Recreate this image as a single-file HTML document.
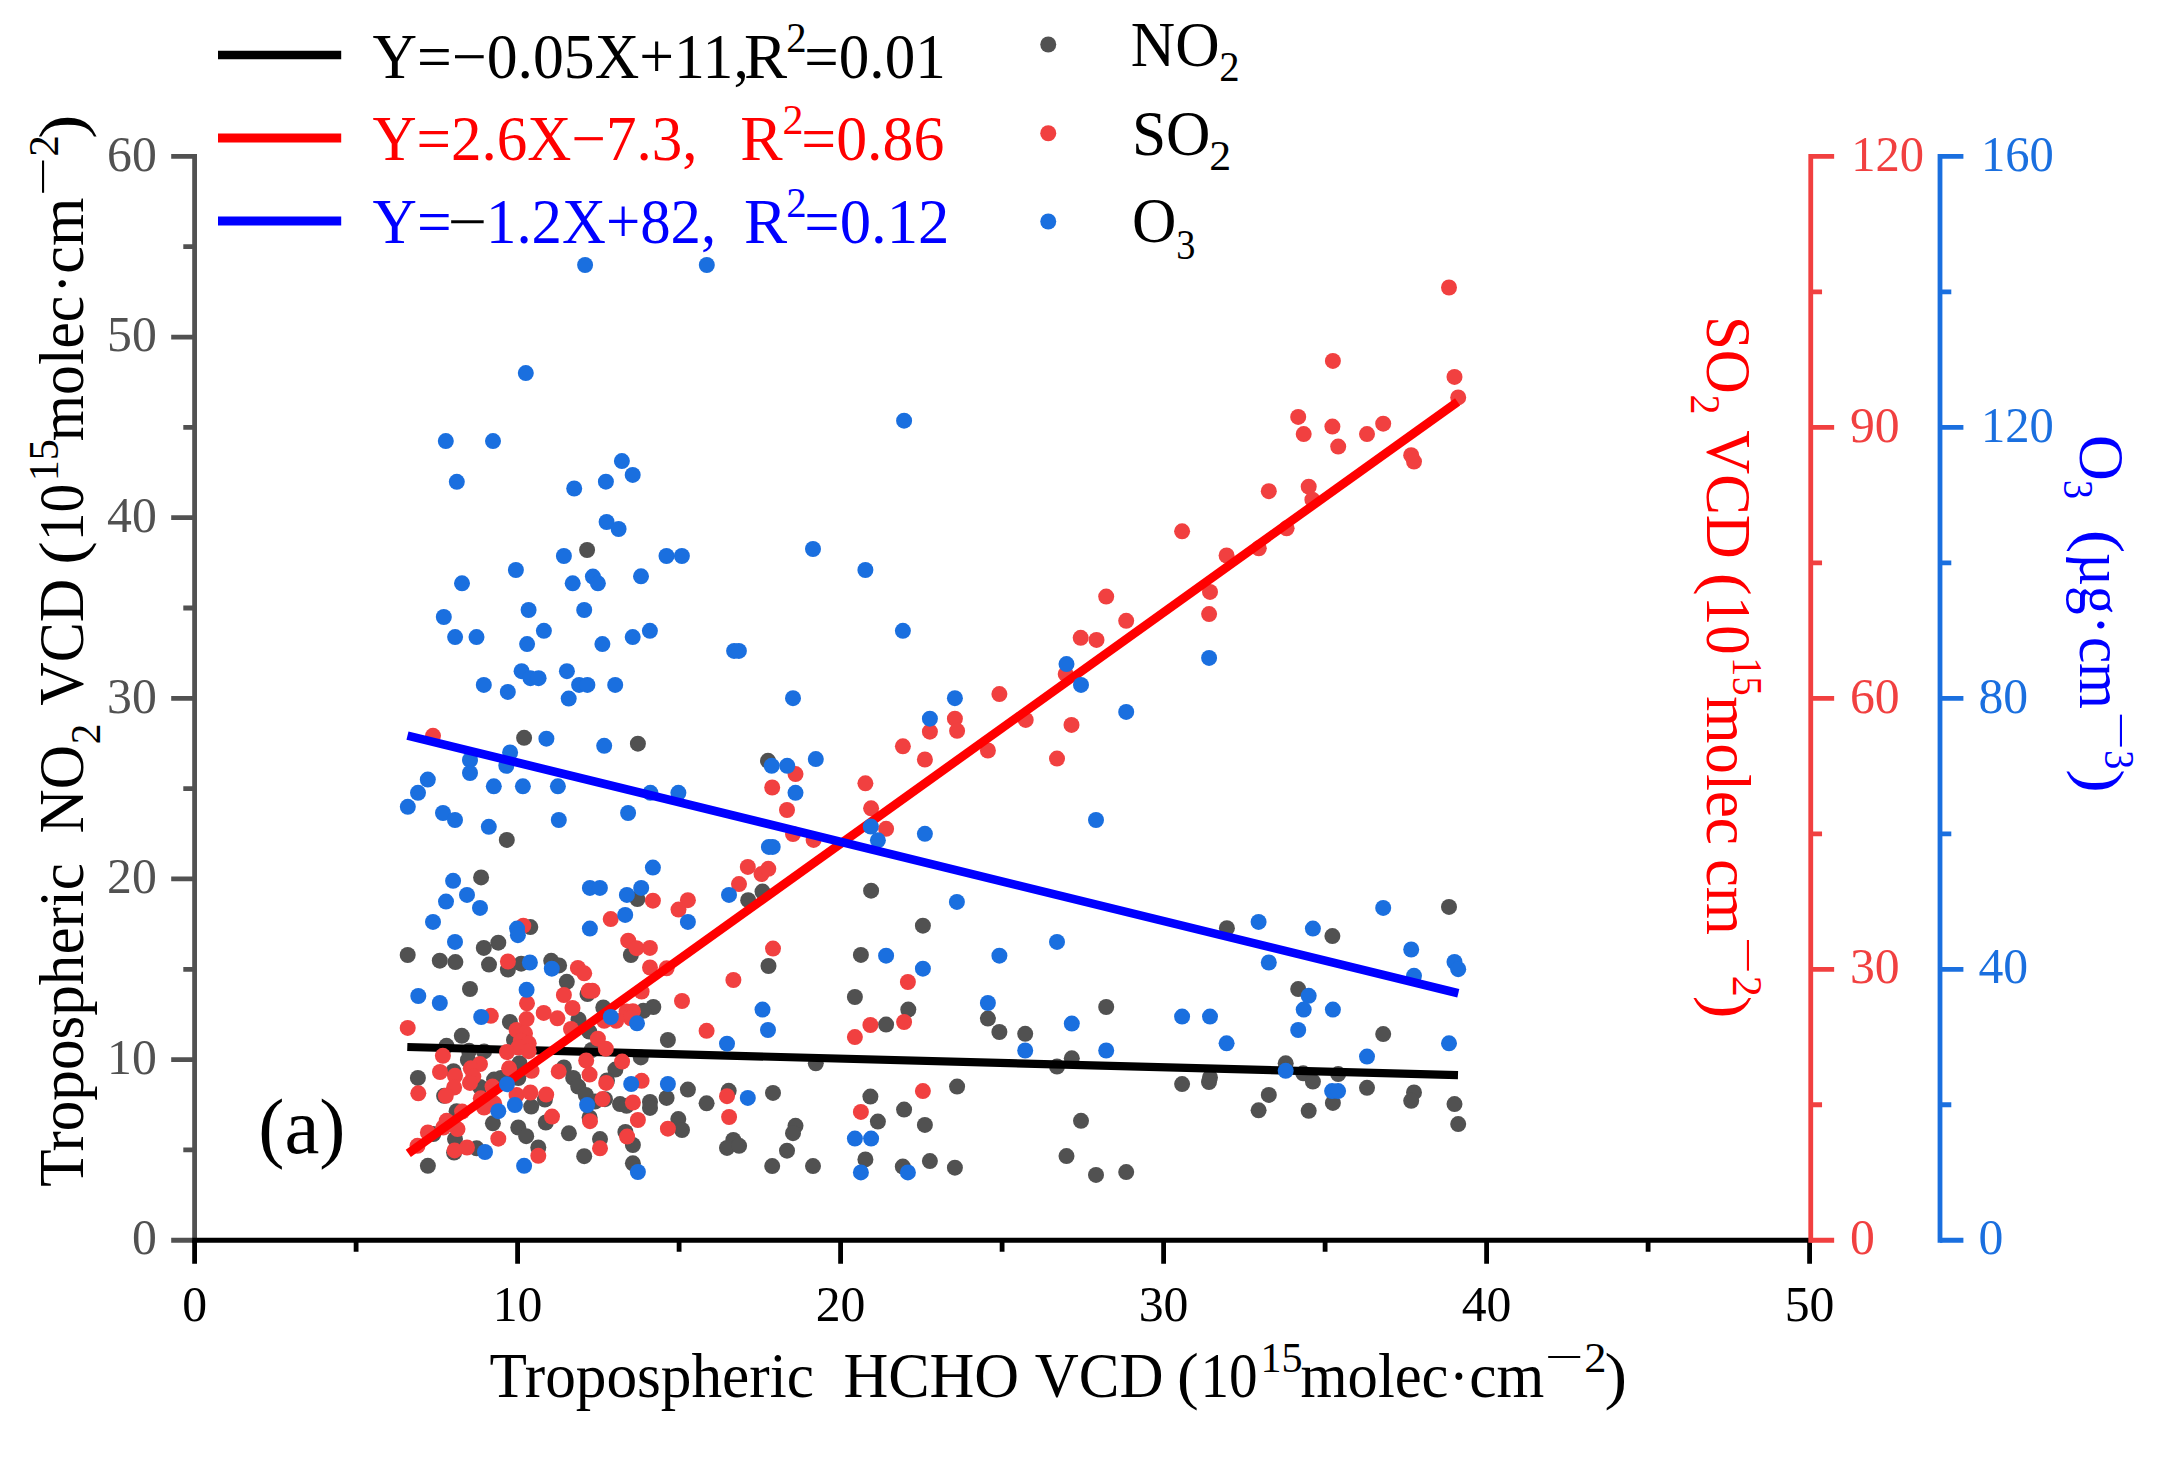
<!DOCTYPE html>
<html><head><meta charset="utf-8"><title>Figure (a)</title>
<style>html,body{margin:0;padding:0;background:#fff}svg{display:block}text{font-family:"Liberation Serif",serif}</style>
</head><body>
<svg width="2161" height="1465" viewBox="0 0 2161 1465">
<rect width="2161" height="1465" fill="#fff"/>
<g fill="#515151">
<circle cx="587.1" cy="550.0" r="8.0"/>
<circle cx="524.1" cy="737.8" r="8.0"/>
<circle cx="637.9" cy="743.7" r="8.0"/>
<circle cx="506.8" cy="839.9" r="8.0"/>
<circle cx="481.1" cy="877.4" r="8.0"/>
<circle cx="637.4" cy="899.1" r="8.0"/>
<circle cx="748.2" cy="900.2" r="8.0"/>
<circle cx="530.3" cy="927.1" r="8.0"/>
<circle cx="498.3" cy="942.7" r="8.0"/>
<circle cx="483.8" cy="947.9" r="8.0"/>
<circle cx="630.9" cy="955.0" r="8.0"/>
<circle cx="407.7" cy="955.0" r="8.0"/>
<circle cx="439.8" cy="960.7" r="8.0"/>
<circle cx="455.4" cy="962.1" r="8.0"/>
<circle cx="489.0" cy="964.6" r="8.0"/>
<circle cx="507.9" cy="969.6" r="8.0"/>
<circle cx="521.2" cy="963.7" r="8.0"/>
<circle cx="551.2" cy="960.8" r="8.0"/>
<circle cx="559.1" cy="965.4" r="8.0"/>
<circle cx="566.8" cy="981.8" r="8.0"/>
<circle cx="470.0" cy="989.0" r="8.0"/>
<circle cx="509.9" cy="1022.0" r="8.0"/>
<circle cx="461.8" cy="1035.8" r="8.0"/>
<circle cx="446.5" cy="1045.8" r="8.0"/>
<circle cx="524.0" cy="1033.3" r="8.0"/>
<circle cx="514.0" cy="1040.0" r="8.0"/>
<circle cx="469.1" cy="1050.8" r="8.0"/>
<circle cx="484.1" cy="1051.4" r="8.0"/>
<circle cx="467.9" cy="1060.0" r="8.0"/>
<circle cx="453.5" cy="1071.2" r="8.0"/>
<circle cx="519.5" cy="1063.2" r="8.0"/>
<circle cx="563.9" cy="1067.4" r="8.0"/>
<circle cx="587.5" cy="994.1" r="8.0"/>
<circle cx="603.3" cy="1007.5" r="8.0"/>
<circle cx="653.3" cy="1007.0" r="8.0"/>
<circle cx="643.3" cy="1010.8" r="8.0"/>
<circle cx="589.2" cy="1031.6" r="8.0"/>
<circle cx="667.9" cy="1040.0" r="8.0"/>
<circle cx="591.7" cy="1050.0" r="8.0"/>
<circle cx="640.8" cy="1057.4" r="8.0"/>
<circle cx="615.4" cy="1069.6" r="8.0"/>
<circle cx="578.5" cy="1019.5" r="8.0"/>
<circle cx="417.9" cy="1077.9" r="8.0"/>
<circle cx="480.0" cy="1087.0" r="8.0"/>
<circle cx="494.1" cy="1079.6" r="8.0"/>
<circle cx="501.0" cy="1078.0" r="8.0"/>
<circle cx="518.3" cy="1078.0" r="8.0"/>
<circle cx="573.2" cy="1077.9" r="8.0"/>
<circle cx="578.2" cy="1086.6" r="8.0"/>
<circle cx="531.2" cy="1106.6" r="8.0"/>
<circle cx="544.9" cy="1099.6" r="8.0"/>
<circle cx="456.6" cy="1111.2" r="8.0"/>
<circle cx="444.1" cy="1095.8" r="8.0"/>
<circle cx="492.9" cy="1123.3" r="8.0"/>
<circle cx="518.3" cy="1127.5" r="8.0"/>
<circle cx="526.2" cy="1136.2" r="8.0"/>
<circle cx="545.8" cy="1122.5" r="8.0"/>
<circle cx="568.9" cy="1133.3" r="8.0"/>
<circle cx="433.3" cy="1134.1" r="8.0"/>
<circle cx="455.0" cy="1139.1" r="8.0"/>
<circle cx="476.6" cy="1148.3" r="8.0"/>
<circle cx="454.1" cy="1152.5" r="8.0"/>
<circle cx="538.3" cy="1147.5" r="8.0"/>
<circle cx="427.9" cy="1165.8" r="8.0"/>
<circle cx="607.0" cy="1080.4" r="8.0"/>
<circle cx="585.8" cy="1095.0" r="8.0"/>
<circle cx="595.0" cy="1101.6" r="8.0"/>
<circle cx="605.0" cy="1099.2" r="8.0"/>
<circle cx="620.0" cy="1104.1" r="8.0"/>
<circle cx="626.6" cy="1105.8" r="8.0"/>
<circle cx="650.0" cy="1102.0" r="8.0"/>
<circle cx="650.0" cy="1107.9" r="8.0"/>
<circle cx="666.6" cy="1097.9" r="8.0"/>
<circle cx="687.9" cy="1089.6" r="8.0"/>
<circle cx="706.6" cy="1103.3" r="8.0"/>
<circle cx="728.7" cy="1090.8" r="8.0"/>
<circle cx="589.6" cy="1117.5" r="8.0"/>
<circle cx="678.3" cy="1119.1" r="8.0"/>
<circle cx="682.0" cy="1130.0" r="8.0"/>
<circle cx="600.0" cy="1139.1" r="8.0"/>
<circle cx="625.4" cy="1132.0" r="8.0"/>
<circle cx="632.9" cy="1145.0" r="8.0"/>
<circle cx="584.2" cy="1156.2" r="8.0"/>
<circle cx="632.9" cy="1163.3" r="8.0"/>
<circle cx="733.3" cy="1140.0" r="8.0"/>
<circle cx="727.0" cy="1147.9" r="8.0"/>
<circle cx="739.1" cy="1145.8" r="8.0"/>
<circle cx="768.0" cy="760.8" r="8.0"/>
<circle cx="762.5" cy="891.6" r="8.0"/>
<circle cx="871.1" cy="890.7" r="8.0"/>
<circle cx="922.9" cy="925.7" r="8.0"/>
<circle cx="860.9" cy="954.9" r="8.0"/>
<circle cx="768.5" cy="966.0" r="8.0"/>
<circle cx="854.9" cy="997.0" r="8.0"/>
<circle cx="908.3" cy="1009.6" r="8.0"/>
<circle cx="886.1" cy="1024.6" r="8.0"/>
<circle cx="987.9" cy="1018.6" r="8.0"/>
<circle cx="999.4" cy="1032.0" r="8.0"/>
<circle cx="1025.2" cy="1033.8" r="8.0"/>
<circle cx="1106.2" cy="1007.0" r="8.0"/>
<circle cx="1071.8" cy="1058.3" r="8.0"/>
<circle cx="1057.0" cy="1066.6" r="8.0"/>
<circle cx="815.8" cy="1063.3" r="8.0"/>
<circle cx="957.1" cy="1086.6" r="8.0"/>
<circle cx="773.0" cy="1092.9" r="8.0"/>
<circle cx="870.4" cy="1096.6" r="8.0"/>
<circle cx="904.1" cy="1109.6" r="8.0"/>
<circle cx="877.9" cy="1121.6" r="8.0"/>
<circle cx="924.9" cy="1124.9" r="8.0"/>
<circle cx="795.5" cy="1125.8" r="8.0"/>
<circle cx="793.0" cy="1133.2" r="8.0"/>
<circle cx="1081.0" cy="1120.8" r="8.0"/>
<circle cx="787.0" cy="1150.7" r="8.0"/>
<circle cx="772.2" cy="1166.1" r="8.0"/>
<circle cx="813.0" cy="1166.1" r="8.0"/>
<circle cx="865.4" cy="1159.4" r="8.0"/>
<circle cx="902.8" cy="1166.6" r="8.0"/>
<circle cx="929.9" cy="1161.1" r="8.0"/>
<circle cx="954.9" cy="1167.7" r="8.0"/>
<circle cx="1066.5" cy="1156.1" r="8.0"/>
<circle cx="1096.0" cy="1174.9" r="8.0"/>
<circle cx="1449.0" cy="906.9" r="8.0"/>
<circle cx="1226.9" cy="928.2" r="8.0"/>
<circle cx="1332.4" cy="936.1" r="8.0"/>
<circle cx="1298.2" cy="989.1" r="8.0"/>
<circle cx="1383.2" cy="1034.1" r="8.0"/>
<circle cx="1285.7" cy="1063.3" r="8.0"/>
<circle cx="1303.2" cy="1073.3" r="8.0"/>
<circle cx="1312.9" cy="1081.6" r="8.0"/>
<circle cx="1338.2" cy="1074.1" r="8.0"/>
<circle cx="1210.0" cy="1077.5" r="8.0"/>
<circle cx="1209.0" cy="1082.0" r="8.0"/>
<circle cx="1182.1" cy="1084.1" r="8.0"/>
<circle cx="1367.0" cy="1087.8" r="8.0"/>
<circle cx="1268.8" cy="1094.9" r="8.0"/>
<circle cx="1414.0" cy="1092.4" r="8.0"/>
<circle cx="1411.2" cy="1100.8" r="8.0"/>
<circle cx="1332.9" cy="1102.9" r="8.0"/>
<circle cx="1258.6" cy="1110.3" r="8.0"/>
<circle cx="1308.7" cy="1110.8" r="8.0"/>
<circle cx="1454.5" cy="1104.1" r="8.0"/>
<circle cx="1458.2" cy="1124.1" r="8.0"/>
<circle cx="1126.2" cy="1172.1" r="8.0"/>
</g>
<line x1="407.3" y1="1047" x2="1458" y2="1075.1" stroke="#000" stroke-width="8.2"/>
<g fill="#F14040">
<circle cx="433.0" cy="735.8" r="8.0"/>
<circle cx="747.8" cy="866.9" r="8.0"/>
<circle cx="739.0" cy="884.1" r="8.0"/>
<circle cx="652.9" cy="900.7" r="8.0"/>
<circle cx="687.9" cy="900.2" r="8.0"/>
<circle cx="678.5" cy="909.6" r="8.0"/>
<circle cx="610.7" cy="919.1" r="8.0"/>
<circle cx="523.3" cy="925.7" r="8.0"/>
<circle cx="628.2" cy="940.7" r="8.0"/>
<circle cx="636.5" cy="948.2" r="8.0"/>
<circle cx="649.9" cy="947.9" r="8.0"/>
<circle cx="507.9" cy="961.5" r="8.0"/>
<circle cx="563.9" cy="995.0" r="8.0"/>
<circle cx="527.0" cy="1003.3" r="8.0"/>
<circle cx="490.8" cy="1015.8" r="8.0"/>
<circle cx="407.7" cy="1027.9" r="8.0"/>
<circle cx="543.7" cy="1012.9" r="8.0"/>
<circle cx="557.4" cy="1018.3" r="8.0"/>
<circle cx="572.5" cy="1008.0" r="8.0"/>
<circle cx="526.6" cy="1019.1" r="8.0"/>
<circle cx="516.6" cy="1030.0" r="8.0"/>
<circle cx="525.0" cy="1033.3" r="8.0"/>
<circle cx="520.8" cy="1040.8" r="8.0"/>
<circle cx="518.3" cy="1047.5" r="8.0"/>
<circle cx="528.7" cy="1043.3" r="8.0"/>
<circle cx="507.0" cy="1052.0" r="8.0"/>
<circle cx="528.7" cy="1051.2" r="8.0"/>
<circle cx="442.9" cy="1055.8" r="8.0"/>
<circle cx="440.0" cy="1072.0" r="8.0"/>
<circle cx="480.0" cy="1064.1" r="8.0"/>
<circle cx="470.8" cy="1068.3" r="8.0"/>
<circle cx="509.1" cy="1068.3" r="8.0"/>
<circle cx="558.7" cy="1071.4" r="8.0"/>
<circle cx="571.0" cy="1029.0" r="8.0"/>
<circle cx="577.9" cy="967.9" r="8.0"/>
<circle cx="584.2" cy="973.3" r="8.0"/>
<circle cx="650.0" cy="967.5" r="8.0"/>
<circle cx="666.6" cy="968.3" r="8.0"/>
<circle cx="733.4" cy="980.0" r="8.0"/>
<circle cx="588.7" cy="990.8" r="8.0"/>
<circle cx="592.5" cy="990.8" r="8.0"/>
<circle cx="641.6" cy="991.6" r="8.0"/>
<circle cx="682.0" cy="1001.0" r="8.0"/>
<circle cx="626.6" cy="1011.6" r="8.0"/>
<circle cx="632.9" cy="1011.2" r="8.0"/>
<circle cx="630.8" cy="1018.3" r="8.0"/>
<circle cx="604.2" cy="1020.8" r="8.0"/>
<circle cx="616.2" cy="1020.8" r="8.0"/>
<circle cx="706.6" cy="1030.8" r="8.0"/>
<circle cx="597.9" cy="1038.7" r="8.0"/>
<circle cx="605.8" cy="1048.7" r="8.0"/>
<circle cx="586.2" cy="1060.5" r="8.0"/>
<circle cx="622.1" cy="1061.6" r="8.0"/>
<circle cx="418.3" cy="1093.3" r="8.0"/>
<circle cx="455.0" cy="1075.8" r="8.0"/>
<circle cx="454.1" cy="1087.5" r="8.0"/>
<circle cx="445.8" cy="1095.8" r="8.0"/>
<circle cx="473.3" cy="1076.6" r="8.0"/>
<circle cx="470.0" cy="1082.9" r="8.0"/>
<circle cx="492.5" cy="1086.6" r="8.0"/>
<circle cx="531.6" cy="1070.8" r="8.0"/>
<circle cx="480.8" cy="1098.3" r="8.0"/>
<circle cx="494.1" cy="1103.3" r="8.0"/>
<circle cx="484.1" cy="1107.5" r="8.0"/>
<circle cx="516.6" cy="1095.0" r="8.0"/>
<circle cx="530.4" cy="1092.5" r="8.0"/>
<circle cx="546.2" cy="1094.6" r="8.0"/>
<circle cx="462.1" cy="1111.6" r="8.0"/>
<circle cx="446.6" cy="1120.8" r="8.0"/>
<circle cx="443.3" cy="1127.5" r="8.0"/>
<circle cx="457.5" cy="1129.1" r="8.0"/>
<circle cx="427.9" cy="1132.5" r="8.0"/>
<circle cx="417.5" cy="1145.8" r="8.0"/>
<circle cx="498.3" cy="1138.7" r="8.0"/>
<circle cx="552.0" cy="1116.6" r="8.0"/>
<circle cx="454.6" cy="1150.4" r="8.0"/>
<circle cx="467.0" cy="1147.5" r="8.0"/>
<circle cx="538.3" cy="1155.8" r="8.0"/>
<circle cx="589.6" cy="1074.6" r="8.0"/>
<circle cx="606.2" cy="1082.9" r="8.0"/>
<circle cx="641.6" cy="1080.8" r="8.0"/>
<circle cx="602.5" cy="1099.1" r="8.0"/>
<circle cx="632.9" cy="1102.5" r="8.0"/>
<circle cx="727.0" cy="1096.2" r="8.0"/>
<circle cx="590.0" cy="1121.2" r="8.0"/>
<circle cx="637.9" cy="1120.0" r="8.0"/>
<circle cx="729.1" cy="1117.0" r="8.0"/>
<circle cx="667.9" cy="1128.7" r="8.0"/>
<circle cx="627.1" cy="1136.6" r="8.0"/>
<circle cx="600.0" cy="1148.3" r="8.0"/>
<circle cx="1106.2" cy="596.6" r="8.0"/>
<circle cx="1080.7" cy="637.8" r="8.0"/>
<circle cx="1096.5" cy="639.9" r="8.0"/>
<circle cx="1065.7" cy="674.1" r="8.0"/>
<circle cx="999.4" cy="694.1" r="8.0"/>
<circle cx="954.9" cy="718.7" r="8.0"/>
<circle cx="1025.7" cy="719.9" r="8.0"/>
<circle cx="1071.5" cy="724.9" r="8.0"/>
<circle cx="957.1" cy="730.8" r="8.0"/>
<circle cx="929.9" cy="731.7" r="8.0"/>
<circle cx="902.9" cy="746.3" r="8.0"/>
<circle cx="924.9" cy="759.5" r="8.0"/>
<circle cx="987.9" cy="750.5" r="8.0"/>
<circle cx="1057.0" cy="758.6" r="8.0"/>
<circle cx="795.5" cy="774.1" r="8.0"/>
<circle cx="772.2" cy="787.5" r="8.0"/>
<circle cx="865.4" cy="783.3" r="8.0"/>
<circle cx="787.0" cy="810.0" r="8.0"/>
<circle cx="871.1" cy="808.3" r="8.0"/>
<circle cx="886.1" cy="828.8" r="8.0"/>
<circle cx="793.0" cy="834.1" r="8.0"/>
<circle cx="813.6" cy="839.9" r="8.0"/>
<circle cx="761.5" cy="874.1" r="8.0"/>
<circle cx="768.3" cy="868.8" r="8.0"/>
<circle cx="773.0" cy="948.6" r="8.0"/>
<circle cx="907.9" cy="982.0" r="8.0"/>
<circle cx="904.1" cy="1022.0" r="8.0"/>
<circle cx="870.4" cy="1025.0" r="8.0"/>
<circle cx="854.9" cy="1037.1" r="8.0"/>
<circle cx="922.9" cy="1091.1" r="8.0"/>
<circle cx="860.9" cy="1111.9" r="8.0"/>
<circle cx="1449.0" cy="287.5" r="8.0"/>
<circle cx="1332.9" cy="360.9" r="8.0"/>
<circle cx="1454.5" cy="376.9" r="8.0"/>
<circle cx="1458.2" cy="397.4" r="8.0"/>
<circle cx="1298.2" cy="416.9" r="8.0"/>
<circle cx="1303.7" cy="434.1" r="8.0"/>
<circle cx="1332.4" cy="426.6" r="8.0"/>
<circle cx="1338.2" cy="446.6" r="8.0"/>
<circle cx="1367.0" cy="434.1" r="8.0"/>
<circle cx="1383.2" cy="423.7" r="8.0"/>
<circle cx="1411.2" cy="455.2" r="8.0"/>
<circle cx="1414.0" cy="461.6" r="8.0"/>
<circle cx="1308.7" cy="486.7" r="8.0"/>
<circle cx="1268.8" cy="491.2" r="8.0"/>
<circle cx="1312.4" cy="499.7" r="8.0"/>
<circle cx="1182.1" cy="531.3" r="8.0"/>
<circle cx="1286.6" cy="528.3" r="8.0"/>
<circle cx="1226.6" cy="555.5" r="8.0"/>
<circle cx="1258.8" cy="548.3" r="8.0"/>
<circle cx="1210.0" cy="591.9" r="8.0"/>
<circle cx="1209.1" cy="614.1" r="8.0"/>
<circle cx="1126.2" cy="620.8" r="8.0"/>
</g>
<line x1="408.3" y1="1153.3" x2="1457.6" y2="401.8" stroke="#FF0000" stroke-width="8.8"/>
<g fill="#1A6FDF">
<circle cx="585.1" cy="265.0" r="8.0"/>
<circle cx="706.8" cy="265.0" r="8.0"/>
<circle cx="525.8" cy="373.1" r="8.0"/>
<circle cx="445.8" cy="441.1" r="8.0"/>
<circle cx="493.0" cy="441.1" r="8.0"/>
<circle cx="621.9" cy="461.1" r="8.0"/>
<circle cx="632.7" cy="474.9" r="8.0"/>
<circle cx="605.9" cy="481.7" r="8.0"/>
<circle cx="456.8" cy="481.8" r="8.0"/>
<circle cx="574.2" cy="488.5" r="8.0"/>
<circle cx="606.6" cy="522.0" r="8.0"/>
<circle cx="618.6" cy="529.0" r="8.0"/>
<circle cx="563.9" cy="556.0" r="8.0"/>
<circle cx="666.5" cy="556.0" r="8.0"/>
<circle cx="681.9" cy="556.0" r="8.0"/>
<circle cx="515.9" cy="570.0" r="8.0"/>
<circle cx="592.9" cy="576.6" r="8.0"/>
<circle cx="597.9" cy="583.3" r="8.0"/>
<circle cx="572.7" cy="583.3" r="8.0"/>
<circle cx="641.0" cy="576.3" r="8.0"/>
<circle cx="462.0" cy="583.3" r="8.0"/>
<circle cx="528.6" cy="610.0" r="8.0"/>
<circle cx="584.2" cy="610.0" r="8.0"/>
<circle cx="443.8" cy="617.0" r="8.0"/>
<circle cx="543.9" cy="630.8" r="8.0"/>
<circle cx="649.9" cy="630.8" r="8.0"/>
<circle cx="455.1" cy="637.1" r="8.0"/>
<circle cx="476.5" cy="637.1" r="8.0"/>
<circle cx="632.7" cy="637.1" r="8.0"/>
<circle cx="527.1" cy="644.1" r="8.0"/>
<circle cx="602.4" cy="644.1" r="8.0"/>
<circle cx="734.1" cy="650.9" r="8.0"/>
<circle cx="738.9" cy="650.9" r="8.0"/>
<circle cx="521.6" cy="671.2" r="8.0"/>
<circle cx="530.4" cy="678.2" r="8.0"/>
<circle cx="538.6" cy="678.2" r="8.0"/>
<circle cx="566.9" cy="671.2" r="8.0"/>
<circle cx="579.1" cy="684.9" r="8.0"/>
<circle cx="587.4" cy="684.9" r="8.0"/>
<circle cx="615.2" cy="684.9" r="8.0"/>
<circle cx="483.8" cy="684.9" r="8.0"/>
<circle cx="507.8" cy="691.9" r="8.0"/>
<circle cx="568.7" cy="698.6" r="8.0"/>
<circle cx="546.4" cy="738.7" r="8.0"/>
<circle cx="604.2" cy="745.8" r="8.0"/>
<circle cx="510.1" cy="752.5" r="8.0"/>
<circle cx="470.0" cy="760.0" r="8.0"/>
<circle cx="506.3" cy="765.8" r="8.0"/>
<circle cx="470.0" cy="773.0" r="8.0"/>
<circle cx="427.8" cy="779.6" r="8.0"/>
<circle cx="493.8" cy="786.3" r="8.0"/>
<circle cx="522.9" cy="786.3" r="8.0"/>
<circle cx="557.9" cy="786.3" r="8.0"/>
<circle cx="418.0" cy="792.8" r="8.0"/>
<circle cx="650.4" cy="792.8" r="8.0"/>
<circle cx="678.4" cy="792.8" r="8.0"/>
<circle cx="407.8" cy="806.8" r="8.0"/>
<circle cx="443.0" cy="813.0" r="8.0"/>
<circle cx="455.0" cy="820.0" r="8.0"/>
<circle cx="628.1" cy="813.0" r="8.0"/>
<circle cx="558.8" cy="820.0" r="8.0"/>
<circle cx="488.8" cy="826.8" r="8.0"/>
<circle cx="652.9" cy="867.6" r="8.0"/>
<circle cx="453.1" cy="880.8" r="8.0"/>
<circle cx="589.9" cy="887.9" r="8.0"/>
<circle cx="599.9" cy="887.9" r="8.0"/>
<circle cx="641.2" cy="887.9" r="8.0"/>
<circle cx="467.0" cy="894.9" r="8.0"/>
<circle cx="626.9" cy="894.9" r="8.0"/>
<circle cx="729.0" cy="894.9" r="8.0"/>
<circle cx="446.0" cy="901.6" r="8.0"/>
<circle cx="480.0" cy="907.9" r="8.0"/>
<circle cx="625.2" cy="914.9" r="8.0"/>
<circle cx="433.0" cy="921.9" r="8.0"/>
<circle cx="687.9" cy="921.9" r="8.0"/>
<circle cx="517.1" cy="928.6" r="8.0"/>
<circle cx="589.9" cy="928.6" r="8.0"/>
<circle cx="517.9" cy="935.2" r="8.0"/>
<circle cx="455.0" cy="941.9" r="8.0"/>
<circle cx="529.9" cy="962.5" r="8.0"/>
<circle cx="551.8" cy="968.7" r="8.0"/>
<circle cx="526.6" cy="989.8" r="8.0"/>
<circle cx="418.3" cy="996.0" r="8.0"/>
<circle cx="439.8" cy="1003.0" r="8.0"/>
<circle cx="481.2" cy="1017.0" r="8.0"/>
<circle cx="610.8" cy="1017.0" r="8.0"/>
<circle cx="637.0" cy="1023.3" r="8.0"/>
<circle cx="727.0" cy="1043.7" r="8.0"/>
<circle cx="507.0" cy="1084.2" r="8.0"/>
<circle cx="514.9" cy="1105.0" r="8.0"/>
<circle cx="498.3" cy="1111.2" r="8.0"/>
<circle cx="485.0" cy="1152.0" r="8.0"/>
<circle cx="524.1" cy="1165.8" r="8.0"/>
<circle cx="631.2" cy="1084.0" r="8.0"/>
<circle cx="667.9" cy="1084.0" r="8.0"/>
<circle cx="587.1" cy="1105.0" r="8.0"/>
<circle cx="747.8" cy="1097.9" r="8.0"/>
<circle cx="637.9" cy="1172.0" r="8.0"/>
<circle cx="904.1" cy="420.7" r="8.0"/>
<circle cx="813.0" cy="549.0" r="8.0"/>
<circle cx="865.4" cy="570.0" r="8.0"/>
<circle cx="902.9" cy="630.8" r="8.0"/>
<circle cx="793.0" cy="698.2" r="8.0"/>
<circle cx="954.9" cy="698.2" r="8.0"/>
<circle cx="1066.5" cy="664.1" r="8.0"/>
<circle cx="1081.0" cy="684.9" r="8.0"/>
<circle cx="929.9" cy="718.7" r="8.0"/>
<circle cx="771.7" cy="765.8" r="8.0"/>
<circle cx="787.2" cy="765.8" r="8.0"/>
<circle cx="815.8" cy="759.1" r="8.0"/>
<circle cx="795.5" cy="792.8" r="8.0"/>
<circle cx="870.8" cy="826.6" r="8.0"/>
<circle cx="877.9" cy="840.3" r="8.0"/>
<circle cx="924.9" cy="833.8" r="8.0"/>
<circle cx="1096.0" cy="820.0" r="8.0"/>
<circle cx="768.9" cy="846.9" r="8.0"/>
<circle cx="772.7" cy="846.9" r="8.0"/>
<circle cx="956.9" cy="901.9" r="8.0"/>
<circle cx="1057.0" cy="941.9" r="8.0"/>
<circle cx="886.1" cy="955.7" r="8.0"/>
<circle cx="999.4" cy="955.7" r="8.0"/>
<circle cx="922.9" cy="968.7" r="8.0"/>
<circle cx="762.5" cy="1009.6" r="8.0"/>
<circle cx="768.0" cy="1030.0" r="8.0"/>
<circle cx="987.9" cy="1003.0" r="8.0"/>
<circle cx="1071.8" cy="1023.6" r="8.0"/>
<circle cx="1025.2" cy="1050.5" r="8.0"/>
<circle cx="1106.2" cy="1050.5" r="8.0"/>
<circle cx="854.9" cy="1138.6" r="8.0"/>
<circle cx="871.1" cy="1138.6" r="8.0"/>
<circle cx="860.9" cy="1172.4" r="8.0"/>
<circle cx="907.9" cy="1172.4" r="8.0"/>
<circle cx="1209.1" cy="657.9" r="8.0"/>
<circle cx="1126.2" cy="711.9" r="8.0"/>
<circle cx="1383.2" cy="907.9" r="8.0"/>
<circle cx="1258.6" cy="921.9" r="8.0"/>
<circle cx="1312.9" cy="928.6" r="8.0"/>
<circle cx="1411.2" cy="949.5" r="8.0"/>
<circle cx="1268.8" cy="962.5" r="8.0"/>
<circle cx="1454.5" cy="962.0" r="8.0"/>
<circle cx="1458.2" cy="969.2" r="8.0"/>
<circle cx="1414.0" cy="975.8" r="8.0"/>
<circle cx="1308.7" cy="995.8" r="8.0"/>
<circle cx="1303.7" cy="1009.6" r="8.0"/>
<circle cx="1332.9" cy="1009.6" r="8.0"/>
<circle cx="1182.1" cy="1016.6" r="8.0"/>
<circle cx="1210.0" cy="1016.6" r="8.0"/>
<circle cx="1298.2" cy="1030.0" r="8.0"/>
<circle cx="1226.6" cy="1043.3" r="8.0"/>
<circle cx="1449.0" cy="1043.3" r="8.0"/>
<circle cx="1367.0" cy="1056.6" r="8.0"/>
<circle cx="1285.7" cy="1070.8" r="8.0"/>
<circle cx="1332.1" cy="1091.1" r="8.0"/>
<circle cx="1338.1" cy="1091.1" r="8.0"/>
</g>
<line x1="407.5" y1="735.6" x2="1458.3" y2="993.3" stroke="#0000FF" stroke-width="8.6"/>
<g stroke="#515151" stroke-width="4.8" fill="none"><path d="M194.60 154.00V1242.65"/><path d="M194.60 1240.25h-23.4M194.60 1059.61h-23.4M194.60 878.97h-23.4M194.60 698.33h-23.4M194.60 517.68h-23.4M194.60 337.04h-23.4M194.60 156.40h-23.4M194.60 1149.93h-11.3M194.60 969.29h-11.3M194.60 788.65h-11.3M194.60 608.00h-11.3M194.60 427.36h-11.3M194.60 246.72h-11.3"/></g>
<text transform="translate(156.8,1254.45) scale(0.985,1)" font-size="50.5" fill="#515151" text-anchor="end">0</text>
<text transform="translate(156.8,1073.81) scale(0.985,1)" font-size="50.5" fill="#515151" text-anchor="end">10</text>
<text transform="translate(156.8,893.17) scale(0.985,1)" font-size="50.5" fill="#515151" text-anchor="end">20</text>
<text transform="translate(156.8,712.53) scale(0.985,1)" font-size="50.5" fill="#515151" text-anchor="end">30</text>
<text transform="translate(156.8,531.88) scale(0.985,1)" font-size="50.5" fill="#515151" text-anchor="end">40</text>
<text transform="translate(156.8,351.24) scale(0.985,1)" font-size="50.5" fill="#515151" text-anchor="end">50</text>
<text transform="translate(156.8,170.60) scale(0.985,1)" font-size="50.5" fill="#515151" text-anchor="end">60</text>
<g stroke="#000" stroke-width="4.8" fill="none"><path d="M192.20 1240.25H1812.00"/><path d="M194.60 1240.25v23.5M517.60 1240.25v23.5M840.60 1240.25v23.5M1163.60 1240.25v23.5M1486.60 1240.25v23.5M1809.60 1240.25v23.5M356.10 1240.25v11.5M679.10 1240.25v11.5M1002.10 1240.25v11.5M1325.10 1240.25v11.5M1648.10 1240.25v11.5"/></g>
<text transform="translate(194.60,1320.9) scale(0.985,1)" font-size="50.5" fill="#000" text-anchor="middle">0</text>
<text transform="translate(517.60,1320.9) scale(0.985,1)" font-size="50.5" fill="#000" text-anchor="middle">10</text>
<text transform="translate(840.60,1320.9) scale(0.985,1)" font-size="50.5" fill="#000" text-anchor="middle">20</text>
<text transform="translate(1163.60,1320.9) scale(0.985,1)" font-size="50.5" fill="#000" text-anchor="middle">30</text>
<text transform="translate(1486.60,1320.9) scale(0.985,1)" font-size="50.5" fill="#000" text-anchor="middle">40</text>
<text transform="translate(1809.60,1320.9) scale(0.985,1)" font-size="50.5" fill="#000" text-anchor="middle">50</text>
<g stroke="#F14040" stroke-width="4.8" fill="none"><path d="M1810.75 154.00V1242.65"/><path d="M1810.75 1240.25h23.4M1810.75 969.29h23.4M1810.75 698.33h23.4M1810.75 427.36h23.4M1810.75 156.40h23.4M1810.75 1104.77h11.3M1810.75 833.81h11.3M1810.75 562.84h11.3M1810.75 291.88h11.3"/></g>
<text transform="translate(1850.0,1254.45) scale(0.985,1)" font-size="50.5" fill="#F14040">0</text>
<text transform="translate(1850.0,983.49) scale(0.985,1)" font-size="50.5" fill="#F14040">30</text>
<text transform="translate(1850.0,712.53) scale(0.985,1)" font-size="50.5" fill="#F14040">60</text>
<text transform="translate(1850.0,441.56) scale(0.985,1)" font-size="50.5" fill="#F14040">90</text>
<text transform="translate(1851.3,170.60) scale(0.962,1)" font-size="50.5" fill="#F14040">120</text>
<g stroke="#1A6FDF" stroke-width="4.8" fill="none"><path d="M1940.00 154.00V1242.65"/><path d="M1940.00 1240.25h23.4M1940.00 969.29h23.4M1940.00 698.33h23.4M1940.00 427.36h23.4M1940.00 156.40h23.4M1940.00 1104.77h11.3M1940.00 833.81h11.3M1940.00 562.84h11.3M1940.00 291.88h11.3"/></g>
<text transform="translate(1978.5,1254.45) scale(0.985,1)" font-size="50.5" fill="#1A6FDF">0</text>
<text transform="translate(1978.5,983.49) scale(0.985,1)" font-size="50.5" fill="#1A6FDF">40</text>
<text transform="translate(1978.5,712.53) scale(0.985,1)" font-size="50.5" fill="#1A6FDF">80</text>
<text transform="translate(1981,441.56) scale(0.962,1)" font-size="50.5" fill="#1A6FDF">120</text>
<text transform="translate(1981,170.60) scale(0.962,1)" font-size="50.5" fill="#1A6FDF">160</text>
<line x1="218" y1="55" x2="341.2" y2="55" stroke="#000" stroke-width="8.6"/>
<line x1="218" y1="138" x2="341.2" y2="138" stroke="#FF0000" stroke-width="8.8"/>
<line x1="218" y1="221" x2="341.2" y2="221" stroke="#0000FF" stroke-width="9"/>
<circle cx="1048.25" cy="44.5" r="8.0" fill="#515151"/>
<circle cx="1048.25" cy="133.25" r="8.0" fill="#F14040"/>
<circle cx="1048.25" cy="221.5" r="8.0" fill="#1A6FDF"/>
<text transform="translate(489.49,1396.70) scale(0.9649,1)" font-size="63.5" fill="#000" xml:space="preserve">Tropospheric</text>
<text transform="translate(843.39,1396.70) scale(0.9772,1)" font-size="63.5" fill="#000" xml:space="preserve">HCHO</text>
<text transform="translate(1034.78,1396.70) scale(0.9598,1)" font-size="63.5" fill="#000" xml:space="preserve">VCD</text>
<text transform="translate(1176.97,1396.70) scale(1.0277,1)" font-size="63.5" fill="#000" xml:space="preserve">(</text>
<text transform="translate(1200.45,1396.70) scale(0.9009,1)" font-size="63.5" fill="#000" xml:space="preserve">10</text>
<text transform="translate(1260.54,1371.70) scale(1.0027,1)" font-size="42" fill="#000" xml:space="preserve">15</text>
<text transform="translate(1300.51,1396.70) scale(0.9539,1)" font-size="63.5" fill="#000" xml:space="preserve">molec</text>
<text transform="translate(1448.90,1396.70) scale(0.9333,1)" font-size="63.5" fill="#000" xml:space="preserve">·</text>
<text transform="translate(1469.28,1396.70) scale(0.9676,1)" font-size="63.5" fill="#000" xml:space="preserve">cm</text>
<text transform="translate(1544.72,1370.70) scale(1.6410,1)" font-size="42" fill="#000" xml:space="preserve">−</text>
<text transform="translate(1584.15,1371.70) scale(1.0588,1)" font-size="42" fill="#000" xml:space="preserve">2</text>
<text transform="translate(1604.57,1396.70) scale(1.0646,1)" font-size="63.5" fill="#000" xml:space="preserve">)</text>
<text transform="translate(82.50,1186.80) rotate(-90) scale(0.9628,1)" font-size="63.5" fill="#000" xml:space="preserve">Tropospheric</text>
<text transform="translate(82.50,833.39) rotate(-90) scale(0.9650,1)" font-size="63.5" fill="#000" xml:space="preserve">NO</text>
<text transform="translate(99.50,744.22) rotate(-90) scale(0.9853,1)" font-size="42" fill="#000" xml:space="preserve">2</text>
<text transform="translate(82.50,705.71) rotate(-90) scale(0.9465,1)" font-size="63.5" fill="#000" xml:space="preserve">VCD</text>
<text transform="translate(82.50,564.80) rotate(-90) scale(1.1077,1)" font-size="63.5" fill="#000" xml:space="preserve">(</text>
<text transform="translate(82.50,541.20) rotate(-90) scale(0.9009,1)" font-size="63.5" fill="#000" xml:space="preserve">10</text>
<text transform="translate(57.50,481.36) rotate(-90) scale(1.0027,1)" font-size="42" fill="#000" xml:space="preserve">15</text>
<text transform="translate(82.50,441.17) rotate(-90) scale(0.9375,1)" font-size="63.5" fill="#000" xml:space="preserve">molec</text>
<text transform="translate(82.50,293.55) rotate(-90) scale(0.9333,1)" font-size="63.5" fill="#000" xml:space="preserve">·</text>
<text transform="translate(82.50,273.70) rotate(-90) scale(0.9797,1)" font-size="63.5" fill="#000" xml:space="preserve">cm</text>
<text transform="translate(56.50,196.31) rotate(-90) scale(1.6538,1)" font-size="42" fill="#000" xml:space="preserve">−</text>
<text transform="translate(57.50,156.80) rotate(-90) scale(1.0294,1)" font-size="42" fill="#000" xml:space="preserve">2</text>
<text transform="translate(82.50,138.78) rotate(-90) scale(1.1385,1)" font-size="63.5" fill="#000" xml:space="preserve">)</text>
<text transform="translate(1707.30,315.92) rotate(90) scale(0.9596,1)" font-size="63.5" fill="#FF0000" xml:space="preserve">SO</text>
<text transform="translate(1691.30,394.58) rotate(90) scale(0.9559,1)" font-size="42" fill="#FF0000" xml:space="preserve">2</text>
<text transform="translate(1707.30,430.28) rotate(90) scale(0.9579,1)" font-size="63.5" fill="#FF0000" xml:space="preserve">VCD</text>
<text transform="translate(1707.30,572.72) rotate(90) scale(1.0831,1)" font-size="63.5" fill="#FF0000" xml:space="preserve">(</text>
<text transform="translate(1707.30,595.93) rotate(90) scale(0.9225,1)" font-size="63.5" fill="#FF0000" xml:space="preserve">10</text>
<text transform="translate(1733.00,657.28) rotate(90) scale(0.9123,1)" font-size="42" fill="#FF0000" xml:space="preserve">15</text>
<text transform="translate(1707.30,696.20) rotate(90) scale(0.9579,1)" font-size="63.5" fill="#FF0000" xml:space="preserve">molec</text>
<text transform="translate(1707.30,859.36) rotate(90) scale(0.9757,1)" font-size="63.5" fill="#FF0000" xml:space="preserve">cm</text>
<text transform="translate(1733.80,936.86) rotate(90) scale(1.5692,1)" font-size="42" fill="#FF0000" xml:space="preserve">−</text>
<text transform="translate(1733.00,975.75) rotate(90) scale(1.0000,1)" font-size="42" fill="#FF0000" xml:space="preserve">2</text>
<text transform="translate(1707.30,995.86) rotate(90) scale(1.0708,1)" font-size="63.5" fill="#FF0000" xml:space="preserve">)</text>
<text transform="translate(2080.00,435.10) rotate(90) scale(1.0012,1)" font-size="63.5" fill="#0000FF" xml:space="preserve">O</text>
<text transform="translate(2063.50,479.89) rotate(90) scale(0.9043,1)" font-size="42" fill="#0000FF" xml:space="preserve">3</text>
<text transform="translate(2080.00,529.72) rotate(90) scale(1.1200,1)" font-size="63.5" fill="#0000FF" xml:space="preserve">(</text>
<text transform="translate(2080.00,553.10) rotate(90) scale(0.8985,1)" font-size="63.5" fill="#0000FF" xml:space="preserve">µg</text>
<text transform="translate(2080.00,615.20) rotate(90) scale(0.9333,1)" font-size="63.5" fill="#0000FF" xml:space="preserve">·</text>
<text transform="translate(2080.00,636.88) rotate(90) scale(0.9297,1)" font-size="63.5" fill="#0000FF" xml:space="preserve">cm</text>
<text transform="translate(2106.50,711.13) rotate(90) scale(1.6359,1)" font-size="42" fill="#0000FF" xml:space="preserve">−</text>
<text transform="translate(2105.00,750.19) rotate(90) scale(0.9043,1)" font-size="42" fill="#0000FF" xml:space="preserve">3</text>
<text transform="translate(2080.00,769.27) rotate(90) scale(1.1138,1)" font-size="63.5" fill="#0000FF" xml:space="preserve">)</text>
<text transform="translate(372.52,77.50) scale(0.9719,1)" font-size="63.5" fill="#000" xml:space="preserve">Y=−0.05X+11,</text>
<text transform="translate(743.97,77.50) scale(1.0185,1)" font-size="63.5" fill="#000" xml:space="preserve">R</text>
<text transform="translate(786.30,51.75) scale(0.9706,1)" font-size="42" fill="#000" xml:space="preserve">2</text>
<text transform="translate(804.37,77.50) scale(0.9624,1)" font-size="63.5" fill="#000" xml:space="preserve">=0.01</text>
<text transform="translate(372.53,160.00) scale(0.9617,1)" font-size="63.5" fill="#FF0000" xml:space="preserve">Y=2.6X−7.3,</text>
<text transform="translate(740.25,160.00) scale(1.0000,1)" font-size="63.5" fill="#FF0000" xml:space="preserve">R</text>
<text transform="translate(782.50,134.25) scale(1.0000,1)" font-size="42" fill="#FF0000" xml:space="preserve">2</text>
<text transform="translate(801.34,160.00) scale(0.9735,1)" font-size="63.5" fill="#FF0000" xml:space="preserve">=0.86</text>
<text transform="translate(372.52,243.00) scale(0.9680,1)" font-size="63.5" fill="#0000FF" xml:space="preserve">Y=</text>
<text transform="translate(447.67,243.00) scale(1.1017,1)" font-size="63.5" fill="#000" xml:space="preserve">−</text>
<text transform="translate(485.98,243.00) scale(0.9578,1)" font-size="63.5" fill="#0000FF" xml:space="preserve">1.2X+82,</text>
<text transform="translate(743.97,243.00) scale(1.0185,1)" font-size="63.5" fill="#0000FF" xml:space="preserve">R</text>
<text transform="translate(786.30,217.25) scale(0.9706,1)" font-size="42" fill="#0000FF" xml:space="preserve">2</text>
<text transform="translate(804.29,243.00) scale(0.9875,1)" font-size="63.5" fill="#0000FF" xml:space="preserve">=0.12</text>
<text transform="translate(1130.81,65.50) scale(0.9680,1)" font-size="63.5" fill="#000" xml:space="preserve">NO</text>
<text transform="translate(1219.30,81.25) scale(0.9706,1)" font-size="42" fill="#000" xml:space="preserve">2</text>
<text transform="translate(1131.89,154.50) scale(0.9680,1)" font-size="63.5" fill="#000" xml:space="preserve">SO</text>
<text transform="translate(1209.17,169.50) scale(1.0441,1)" font-size="42" fill="#000" xml:space="preserve">2</text>
<text transform="translate(1132.08,242.00) scale(0.9680,1)" font-size="63.5" fill="#000" xml:space="preserve">O</text>
<text transform="translate(1176.17,258.50) scale(0.9130,1)" font-size="42" fill="#000" xml:space="preserve">3</text>
<text transform="translate(258.22,1152.90) scale(1.0075,1)" font-size="78" fill="#000" xml:space="preserve">(a)</text>
</svg></body></html>
